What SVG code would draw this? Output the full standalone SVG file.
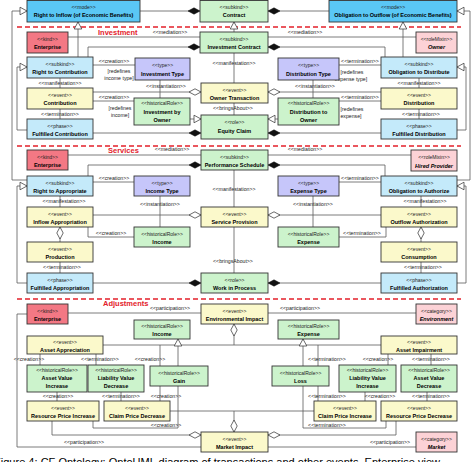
<svg xmlns="http://www.w3.org/2000/svg" width="474" height="462" viewBox="0 0 474 462">
<style>
.b{stroke:#333;stroke-width:0.9}
.mode{fill:#5ac7f5}.sub{fill:#c4eafa}.grn{fill:#ccf3cc}.yel{fill:#fbf9cb}.pur{fill:#c6c6fa}.red{fill:#f37884}.pnk{fill:#fcd2d6}
text{font-family:'Liberation Sans',Arial,sans-serif;text-anchor:middle}
.st{font-size:5px;fill:#222}
.nm{font-size:5.5px;font-weight:bold;fill:#000}
.it{font-style:italic}
.lb{font-size:5.2px;fill:#222}
.ln{fill:none;stroke:#5a5a5a;stroke-width:0.8}
.sep{stroke:#e3202a;stroke-width:1.4;stroke-dasharray:5 3}
.sec{font-size:7.5px;font-weight:bold;fill:#e3202a;text-anchor:start}
.cap{font-size:11px;fill:#000;text-anchor:start}
</style>
<defs>
<marker id="comp" markerUnits="userSpaceOnUse" markerWidth="14" markerHeight="8" orient="auto" refX="0" refY="0" overflow="visible"><path d="M0,0 L6,-3.2 L12,0 L6,3.2 Z" fill="#111" stroke="#111" stroke-width="0.5"/></marker>
<marker id="agg" markerUnits="userSpaceOnUse" markerWidth="14" markerHeight="8" orient="auto" refX="0" refY="0" overflow="visible"><path d="M0,0 L6,-3.2 L12,0 L6,3.2 Z" fill="#fff" stroke="#444" stroke-width="0.8"/></marker>
<marker id="gen" markerUnits="userSpaceOnUse" markerWidth="10" markerHeight="10" orient="auto" refX="0" refY="0" overflow="visible"><path d="M0,0 L-7,-3.8 L-7,3.8 Z" fill="#fff" stroke="#444" stroke-width="0.8"/></marker>
</defs>
<rect x="0" y="0" width="474" height="462" fill="#fff"/>

<g id="sections">
<line class="sep" x1="17" y1="27" x2="461" y2="27"/>
<line class="sep" x1="17" y1="146" x2="461" y2="146"/>
<line class="sep" x1="17" y1="299" x2="461" y2="299"/>
<text class="sec" x="98" y="35">Investment</text>
<text class="sec" x="108" y="153">Services</text>
<text class="sec" x="103" y="306">Adjustments</text>
</g>

<g id="connectors">
<path class="ln" d="M200,11 H140" marker-start="url(#comp)"/>
<path class="ln" d="M268,11 H329" marker-start="url(#comp)"/>
<path class="ln" d="M234,32 V22" marker-end="url(#gen)"/>
<path class="ln" d="M78,57 V22" marker-end="url(#gen)"/>
<path class="ln" d="M403,57 V22" marker-end="url(#gen)"/>
<path class="ln" d="M27,180 H12 V11 H27" marker-end="url(#gen)"/>
<path class="ln" d="M27,130 H17 V67 H27" marker-end="url(#gen)"/>
<path class="ln" d="M457,180 H470 V11 H457" marker-end="url(#gen)"/>
<path class="ln" d="M457,130 H466 V67 H457" marker-end="url(#gen)"/>
<path class="ln" d="M27,283 H17 V186 H27" marker-end="url(#gen)"/>
<path class="ln" d="M457,283 H466 V186 H457" marker-end="url(#gen)"/>
<path class="ln" d="M68,37 H200"/>
<text class="lb" x="170" y="34">&lt;&lt;mediation&gt;&gt;</text>
<path class="ln" d="M268,37 H416"/>
<text class="lb" x="305" y="34">&lt;&lt;mediation&gt;&gt;</text>
<path class="ln" d="M200,47 H88 V57" marker-start="url(#comp)"/>
<path class="ln" d="M268,47 H385 V57" marker-start="url(#comp)"/>
<path class="ln" d="M234,53 V83"/>
<text class="lb" x="234" y="65">&lt;&lt;manifestation&gt;&gt;</text>
<path class="ln" d="M60,78 V88"/>
<text class="lb" x="60" y="84.5">&lt;&lt;manifestation&gt;&gt;</text>
<path class="ln" d="M419,78 V88"/>
<text class="lb" x="419" y="84.5">&lt;&lt;manifestation&gt;&gt;</text>
<path class="ln" d="M93,65 H135"/>
<text class="lb" x="114" y="63">&lt;&lt;creation&gt;&gt;</text>
<text class="lb" x="119" y="73">[redefines</text>
<text class="lb" x="119" y="80">income type]</text>
<path class="ln" d="M339,65 H381"/>
<text class="lb" x="360" y="63">&lt;&lt;termination&gt;&gt;</text>
<text class="lb" x="352" y="74">[redefines</text>
<text class="lb" x="351" y="81">expense type]</text>
<path class="ln" d="M93,101 H134"/>
<text class="lb" x="114" y="99">&lt;&lt;creation&gt;&gt;</text>
<text class="lb" x="120" y="110">[redefines</text>
<text class="lb" x="120" y="117">income]</text>
<path class="ln" d="M381,101 H339"/>
<text class="lb" x="360" y="99">&lt;&lt;termination&gt;&gt;</text>
<text class="lb" x="352" y="111">[redefines</text>
<text class="lb" x="351" y="118">expense]</text>
<path class="ln" d="M201,92 H93" marker-start="url(#agg)"/>
<path class="ln" d="M268,92 H381" marker-start="url(#agg)"/>
<path class="ln" d="M160,98 V80"/>
<text class="lb" x="166" y="88">&lt;&lt;instantiation&gt;&gt;</text>
<path class="ln" d="M313,98 V80"/>
<text class="lb" x="315" y="88">&lt;&lt;instantiation&gt;&gt;</text>
<path class="ln" d="M234,103 V115"/>
<text class="lb" x="233" y="110">&lt;&lt;bringsAbout&gt;&gt;</text>
<path class="ln" d="M190,119 H201" marker-end="url(#gen)"/>
<path class="ln" d="M278,119 H268" marker-end="url(#gen)"/>
<path class="ln" d="M201,133 H93" marker-start="url(#comp)"/>
<path class="ln" d="M268,133 H381" marker-start="url(#comp)"/>
<path class="ln" d="M60,109 V119"/>
<text class="lb" x="60" y="115.5">&lt;&lt;termination&gt;&gt;</text>
<path class="ln" d="M419,109 V119"/>
<text class="lb" x="421" y="115.5">&lt;&lt;termination&gt;&gt;</text>
<path class="ln" d="M68,155 H201"/>
<text class="lb" x="172" y="151">&lt;&lt;mediation&gt;&gt;</text>
<path class="ln" d="M268,155 H411"/>
<text class="lb" x="305" y="151">&lt;&lt;mediation&gt;&gt;</text>
<path class="ln" d="M201,165 H88 V176" marker-start="url(#comp)"/>
<path class="ln" d="M268,165 H385 V176" marker-start="url(#comp)"/>
<path class="ln" d="M234,170 V207"/>
<text class="lb" x="234" y="191">&lt;&lt;manifestation&gt;&gt;</text>
<path class="ln" d="M60,196 V207"/>
<text class="lb" x="64" y="203">&lt;&lt;manifestation&gt;&gt;</text>
<path class="ln" d="M421,196 V207"/>
<text class="lb" x="425" y="203">&lt;&lt;manifestation&gt;&gt;</text>
<path class="ln" d="M93,182 H134"/>
<text class="lb" x="114" y="180">&lt;&lt;creation&gt;&gt;</text>
<path class="ln" d="M339,182 H381"/>
<text class="lb" x="360" y="180">&lt;&lt;termination&gt;&gt;</text>
<path class="ln" d="M160,227 V196"/>
<text class="lb" x="160" y="206">&lt;&lt;instantiation&gt;&gt;</text>
<path class="ln" d="M313,227 V196"/>
<text class="lb" x="313" y="206">&lt;&lt;instantiation&gt;&gt;</text>
<path class="ln" d="M201,215 H93" marker-start="url(#agg)"/>
<path class="ln" d="M268,215 H381" marker-start="url(#agg)"/>
<path class="ln" d="M88,227 V237 H134"/>
<text class="lb" x="111" y="234.5">&lt;&lt;creation&gt;&gt;</text>
<path class="ln" d="M386,227 V237 H339"/>
<text class="lb" x="362" y="234.5">&lt;&lt;termination&gt;&gt;</text>
<path class="ln" d="M60,227 V242" marker-start="url(#agg)"/>
<path class="ln" d="M421,227 V242" marker-start="url(#agg)"/>
<path class="ln" d="M60,262 V273"/>
<text class="lb" x="62" y="269">&lt;&lt;termination&gt;&gt;</text>
<path class="ln" d="M421,262 V273"/>
<text class="lb" x="423" y="269">&lt;&lt;termination&gt;&gt;</text>
<path class="ln" d="M234,227 V273"/>
<text class="lb" x="233" y="263">&lt;&lt;bringsAbout&gt;&gt;</text>
<path class="ln" d="M201,283 H93" marker-start="url(#comp)"/>
<path class="ln" d="M268,283 H381" marker-start="url(#comp)"/>
<path class="ln" d="M68,313 H201"/>
<text class="lb" x="170" y="310">&lt;&lt;participation&gt;&gt;</text>
<path class="ln" d="M268,313 H416"/>
<text class="lb" x="300" y="310">&lt;&lt;participation&gt;&gt;</text>
<path class="ln" d="M234,324 V345" marker-start="url(#agg)"/>
<path class="ln" d="M103,345 H381"/>
<path class="ln" d="M160,345 V366"/>
<text class="lb" x="150" y="361">&lt;&lt;creation&gt;&gt;</text>
<path class="ln" d="M178,366 V339" marker-end="url(#gen)"/>
<path class="ln" d="M318,345 V366"/>
<text class="lb" x="327" y="361">&lt;&lt;termination&gt;&gt;</text>
<path class="ln" d="M303,366 V339" marker-end="url(#gen)"/>
<path class="ln" d="M40,354 V365"/>
<text class="lb" x="29" y="361">&lt;&lt;creation&gt;&gt;</text>
<path class="ln" d="M96,354 V365"/>
<text class="lb" x="100" y="361">&lt;&lt;termination&gt;&gt;</text>
<path class="ln" d="M388,354 V365"/>
<text class="lb" x="378" y="361">&lt;&lt;creation&gt;&gt;</text>
<path class="ln" d="M431,354 V365"/>
<text class="lb" x="431" y="361">&lt;&lt;termination&gt;&gt;</text>
<path class="ln" d="M57,392 V401"/>
<text class="lb" x="58" y="398">&lt;&lt;creation&gt;&gt;</text>
<path class="ln" d="M121,392 V401"/>
<text class="lb" x="121" y="398">&lt;&lt;termination&gt;&gt;</text>
<path class="ln" d="M160,386 V401"/>
<text class="lb" x="166" y="398">&lt;&lt;creation&gt;&gt;</text>
<path class="ln" d="M318,386 V401"/>
<text class="lb" x="327" y="398">&lt;&lt;termination&gt;&gt;</text>
<path class="ln" d="M365,392 V401"/>
<text class="lb" x="380" y="398">&lt;&lt;creation&gt;&gt;</text>
<path class="ln" d="M427,392 V401"/>
<text class="lb" x="431" y="398">&lt;&lt;termination&gt;&gt;</text>
<path class="ln" d="M93,421 V428 H178 V386"/>
<text class="lb" x="166" y="426.5">&lt;&lt;creation&gt;&gt;</text>
<path class="ln" d="M303,386 V428 H386 V421"/>
<text class="lb" x="327" y="426.5">&lt;&lt;termination&gt;&gt;</text>
<path class="ln" d="M201,435 H52 V421" marker-start="url(#agg)"/>
<path class="ln" d="M268,435 H396 V421" marker-start="url(#agg)"/>
<path class="ln" d="M234,432 V411" marker-start="url(#agg)"/>
<path class="ln" d="M170,411 H314"/>
<path class="ln" d="M27,314 H17 V447 H201"/>
<text class="lb" x="84" y="444">&lt;&lt;participation&gt;&gt;</text>
<path class="ln" d="M268,447 H416"/>
<text class="lb" x="390" y="444">&lt;&lt;participation&gt;&gt;</text>
</g>

<g id="right-to-inflow"><rect class="b mode" x="27" y="0.5" width="113" height="21.5"/><text class="st" x="83.5" y="8.5">&lt;&lt;mode&gt;&gt;</text><text class="nm" x="83.5" y="17">Right to Inflow (of Economic Benefits)</text></g>
<g id="contract"><rect class="b grn" x="200" y="0.5" width="68" height="21.5"/><text class="st" x="234" y="8.5">&lt;&lt;subkind&gt;&gt;</text><text class="nm" x="234" y="17">Contract</text></g>
<g id="obligation-to-outflow"><rect class="b mode" x="329" y="0.5" width="128" height="21.5"/><text class="st" x="393" y="8.5">&lt;&lt;mode&gt;&gt;</text><text class="nm" x="393" y="17">Obligation to Outflow (of Economic Benefits)</text></g>

<g id="enterprise-investment"><rect class="b red" x="27" y="32" width="41" height="21"/><text class="st" x="47.5" y="40.5">&lt;&lt;kind&gt;&gt;</text><text class="nm" x="47.5" y="49">Enterprise</text></g>
<g id="investment-contract"><rect class="b grn" x="200" y="32" width="68" height="21"/><text class="st" x="234" y="40.5">&lt;&lt;subkind&gt;&gt;</text><text class="nm" x="234" y="49">Investment Contract</text></g>
<g id="owner"><rect class="b pnk" x="416" y="32" width="41" height="21"/><text class="st" x="436.5" y="40.5">&lt;&lt;roleMixin&gt;&gt;</text><text class="nm it" x="436.5" y="49">Owner</text></g>
<g id="right-to-contribution"><rect class="b sub" x="27" y="57" width="66" height="21"/><text class="st" x="60" y="66">&lt;&lt;subkind&gt;&gt;</text><text class="nm" x="60" y="74">Right to Contribution</text></g>
<g id="investment-type"><rect class="b pur" x="135" y="58" width="55" height="22"/><text class="st" x="162.5" y="67">&lt;&lt;type&gt;&gt;</text><text class="nm" x="162.5" y="75.5">Investment Type</text></g>
<g id="distribution-type"><rect class="b pur" x="278" y="58" width="61" height="22"/><text class="st" x="308.5" y="67">&lt;&lt;type&gt;&gt;</text><text class="nm" x="308.5" y="75.5">Distribution Type</text></g>
<g id="obligation-to-distribute"><rect class="b sub" x="381" y="57" width="76" height="21"/><text class="st" x="419" y="66">&lt;&lt;subkind&gt;&gt;</text><text class="nm" x="419" y="74">Obligation to Distribute</text></g>
<g id="contribution"><rect class="b yel" x="27" y="88" width="66" height="21"/><text class="st" x="60" y="96.5">&lt;&lt;event&gt;&gt;</text><text class="nm" x="60" y="105">Contribution</text></g>
<g id="owner-transaction"><rect class="b yel" x="201" y="83" width="67" height="20"/><text class="st" x="234.5" y="91.5">&lt;&lt;event&gt;&gt;</text><text class="nm" x="234.5" y="100">Owner Transaction</text></g>
<g id="distribution"><rect class="b yel" x="381" y="88" width="76" height="21"/><text class="st" x="419" y="96.5">&lt;&lt;event&gt;&gt;</text><text class="nm" x="419" y="105">Distribution</text></g>
<g id="investment-by-owner"><rect class="b grn" x="134" y="98" width="56" height="27"/><text class="st" x="162" y="105">&lt;&lt;historicalRole&gt;&gt;</text><text class="nm" x="162" y="113.5">Investment by</text><text class="nm" x="162" y="121.5">Owner</text></g>
<g id="distribution-to-owner"><rect class="b grn" x="278" y="98" width="61" height="27"/><text class="st" x="308.5" y="105">&lt;&lt;historicalRole&gt;&gt;</text><text class="nm" x="308.5" y="113.5">Distribution to</text><text class="nm" x="308.5" y="121.5">Owner</text></g>
<g id="equity-claim"><rect class="b grn" x="201" y="115" width="67" height="24"/><text class="st" x="234.5" y="124">&lt;&lt;role&gt;&gt;</text><text class="nm" x="234.5" y="133">Equity Claim</text></g>
<g id="fulfilled-contribution"><rect class="b sub" x="27" y="119" width="66" height="20"/><text class="st" x="60" y="127.5">&lt;&lt;phase&gt;&gt;</text><text class="nm" x="60" y="136">Fulfilled Contribution</text></g>
<g id="fulfilled-distribution"><rect class="b sub" x="381" y="119" width="76" height="20"/><text class="st" x="419" y="127.5">&lt;&lt;phase&gt;&gt;</text><text class="nm" x="419" y="136">Fulfilled Distribution</text></g>

<g id="enterprise-services"><rect class="b red" x="27" y="150" width="41" height="20"/><text class="st" x="47.5" y="158.5">&lt;&lt;kind&gt;&gt;</text><text class="nm" x="47.5" y="167">Enterprise</text></g>
<g id="performance-schedule"><rect class="b grn" x="201" y="150" width="67" height="20"/><text class="st" x="234.5" y="158.5">&lt;&lt;subkind&gt;&gt;</text><text class="nm" x="234.5" y="167">Performance Schedule</text></g>
<g id="hired-provider"><rect class="b pnk" x="411" y="150" width="46" height="21"/><text class="st" x="434" y="158.5">&lt;&lt;roleMixin&gt;&gt;</text><text class="nm it" x="434" y="167.5">Hired Provider</text></g>
<g id="right-to-appropriate"><rect class="b sub" x="27" y="176" width="66" height="20"/><text class="st" x="60" y="184.5">&lt;&lt;subkind&gt;&gt;</text><text class="nm" x="60" y="193">Right to Appropriate</text></g>
<g id="income-type"><rect class="b pur" x="134" y="176" width="56" height="20"/><text class="st" x="162" y="184.5">&lt;&lt;type&gt;&gt;</text><text class="nm" x="162" y="193">Income Type</text></g>
<g id="expense-type"><rect class="b pur" x="278" y="176" width="61" height="20"/><text class="st" x="308.5" y="184.5">&lt;&lt;type&gt;&gt;</text><text class="nm" x="308.5" y="193">Expense Type</text></g>
<g id="obligation-to-authorize"><rect class="b sub" x="381" y="176" width="76" height="20"/><text class="st" x="419" y="184.5">&lt;&lt;subkind&gt;&gt;</text><text class="nm" x="419" y="193">Obligation to Authorize</text></g>
<g id="inflow-appropriation"><rect class="b yel" x="27" y="207" width="66" height="20"/><text class="st" x="60" y="215.5">&lt;&lt;event&gt;&gt;</text><text class="nm" x="60" y="224">Inflow Appropriation</text></g>
<g id="service-provision"><rect class="b yel" x="201" y="207" width="67" height="20"/><text class="st" x="234.5" y="215.5">&lt;&lt;event&gt;&gt;</text><text class="nm" x="234.5" y="224">Service Provision</text></g>
<g id="outflow-authorization"><rect class="b yel" x="381" y="207" width="76" height="20"/><text class="st" x="419" y="215.5">&lt;&lt;event&gt;&gt;</text><text class="nm" x="419" y="224">Outflow Authorization</text></g>
<g id="income-services"><rect class="b grn" x="134" y="227" width="56" height="20"/><text class="st" x="162" y="235.5">&lt;&lt;historicalRole&gt;&gt;</text><text class="nm" x="162" y="244">Income</text></g>
<g id="expense-services"><rect class="b grn" x="278" y="227" width="61" height="20"/><text class="st" x="308.5" y="235.5">&lt;&lt;historicalRole&gt;&gt;</text><text class="nm" x="308.5" y="244">Expense</text></g>
<g id="production"><rect class="b yel" x="27" y="242" width="66" height="20"/><text class="st" x="60" y="250.5">&lt;&lt;event&gt;&gt;</text><text class="nm" x="60" y="259">Production</text></g>
<g id="consumption"><rect class="b yel" x="381" y="242" width="76" height="20"/><text class="st" x="419" y="250.5">&lt;&lt;event&gt;&gt;</text><text class="nm" x="419" y="259">Consumption</text></g>
<g id="work-in-process"><rect class="b grn" x="201" y="273" width="67" height="20"/><text class="st" x="234.5" y="281.5">&lt;&lt;role&gt;&gt;</text><text class="nm" x="234.5" y="290">Work in Process</text></g>
<g id="fulfilled-appropriation"><rect class="b sub" x="27" y="273" width="66" height="20"/><text class="st" x="60" y="281.5">&lt;&lt;phase&gt;&gt;</text><text class="nm" x="60" y="290">Fulfilled Appropriation</text></g>
<g id="fulfilled-authorization"><rect class="b sub" x="381" y="273" width="76" height="20"/><text class="st" x="419" y="281.5">&lt;&lt;phase&gt;&gt;</text><text class="nm" x="419" y="290">Fulfilled Authorization</text></g>

<g id="enterprise-adjustments"><rect class="b red" x="27" y="304" width="41" height="20"/><text class="st" x="47.5" y="312.5">&lt;&lt;kind&gt;&gt;</text><text class="nm" x="47.5" y="321">Enterprise</text></g>
<g id="environmental-impact"><rect class="b yel" x="201" y="304" width="67" height="20"/><text class="st" x="234.5" y="312.5">&lt;&lt;event&gt;&gt;</text><text class="nm" x="234.5" y="321">Environmental Impact</text></g>
<g id="environment"><rect class="b pnk" x="416" y="304" width="41" height="20"/><text class="st" x="436.5" y="312.5">&lt;&lt;category&gt;&gt;</text><text class="nm it" x="436.5" y="321">Environment</text></g>
<g id="income-adjustments"><rect class="b grn" x="134" y="320" width="56" height="19"/><text class="st" x="162" y="328">&lt;&lt;historicalRole&gt;&gt;</text><text class="nm" x="162" y="336">Income</text></g>
<g id="expense-adjustments"><rect class="b grn" x="278" y="320" width="61" height="19"/><text class="st" x="308.5" y="328">&lt;&lt;historicalRole&gt;&gt;</text><text class="nm" x="308.5" y="336">Expense</text></g>
<g id="asset-appreciation"><rect class="b yel" x="27" y="336" width="76" height="18"/><text class="st" x="65" y="343.5">&lt;&lt;event&gt;&gt;</text><text class="nm" x="65" y="351.5">Asset Appreciation</text></g>
<g id="asset-impairment"><rect class="b yel" x="381" y="336" width="76" height="18"/><text class="st" x="419" y="343.5">&lt;&lt;event&gt;&gt;</text><text class="nm" x="419" y="351.5">Asset Impairment</text></g>
<g id="asset-value-increase"><rect class="b grn" x="27" y="365" width="60" height="27"/><text class="st" x="57" y="372">&lt;&lt;historicalRole&gt;&gt;</text><text class="nm" x="57" y="380">Asset Value</text><text class="nm" x="57" y="388">Increase</text></g>
<g id="liability-value-decrease"><rect class="b grn" x="88" y="365" width="56" height="27"/><text class="st" x="116" y="372">&lt;&lt;historicalRole&gt;&gt;</text><text class="nm" x="116" y="380">Liability Value</text><text class="nm" x="116" y="388">Decrease</text></g>
<g id="gain"><rect class="b grn" x="150" y="366" width="58" height="20"/><text class="st" x="179" y="374.5">&lt;&lt;historicalRole&gt;&gt;</text><text class="nm" x="179" y="383">Gain</text></g>
<g id="loss"><rect class="b grn" x="272" y="366" width="57" height="20"/><text class="st" x="300.5" y="374.5">&lt;&lt;historicalRole&gt;&gt;</text><text class="nm" x="300.5" y="383">Loss</text></g>
<g id="liability-value-increase"><rect class="b grn" x="339" y="365" width="57" height="27"/><text class="st" x="367.5" y="372">&lt;&lt;historicalRole&gt;&gt;</text><text class="nm" x="367.5" y="380">Liability Value</text><text class="nm" x="367.5" y="388">Increase</text></g>
<g id="asset-value-decrease"><rect class="b grn" x="401" y="365" width="56" height="27"/><text class="st" x="429" y="372">&lt;&lt;historicalRole&gt;&gt;</text><text class="nm" x="429" y="380">Asset Value</text><text class="nm" x="429" y="388">Decrease</text></g>
<g id="resource-price-increase"><rect class="b yel" x="27" y="401" width="72" height="20"/><text class="st" x="63" y="409.5">&lt;&lt;event&gt;&gt;</text><text class="nm" x="63" y="418">Resource Price Increase</text></g>
<g id="claim-price-decrease"><rect class="b yel" x="104" y="401" width="66" height="20"/><text class="st" x="137" y="409.5">&lt;&lt;event&gt;&gt;</text><text class="nm" x="137" y="418">Claim Price Decrease</text></g>
<g id="claim-price-increase"><rect class="b yel" x="314" y="401" width="62" height="20"/><text class="st" x="345" y="409.5">&lt;&lt;event&gt;&gt;</text><text class="nm" x="345" y="418">Claim Price Increase</text></g>
<g id="resource-price-decrease"><rect class="b yel" x="381" y="401" width="76" height="20"/><text class="st" x="419" y="409.5">&lt;&lt;event&gt;&gt;</text><text class="nm" x="419" y="418">Resource Price Decrease</text></g>
<g id="market-impact"><rect class="b yel" x="201" y="432" width="67" height="20"/><text class="st" x="234.5" y="440.5">&lt;&lt;event&gt;&gt;</text><text class="nm" x="234.5" y="449">Market Impact</text></g>
<g id="market"><rect class="b pnk" x="416" y="432" width="41" height="20"/><text class="st" x="436.5" y="440.5">&lt;&lt;category&gt;&gt;</text><text class="nm it" x="436.5" y="449">Market</text></g>

<text class="cap" x="-6" y="466" textLength="446" lengthAdjust="spacing">Figure 4: CF Ontology: OntoUML diagram of transactions and other events. Enterprise view</text>
</svg>
